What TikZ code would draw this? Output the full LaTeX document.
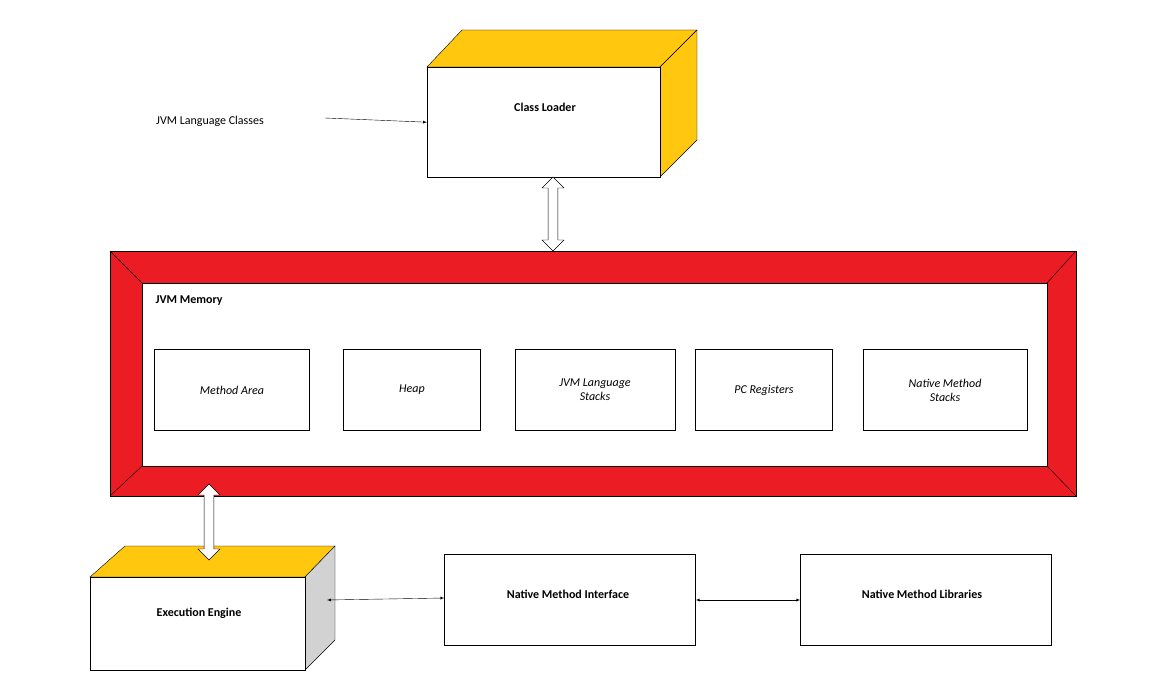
\documentclass[tikz,border=0pt]{standalone}
\usepackage{fontspec}
\setmainfont{Carlito}
\usetikzlibrary{shapes.arrows}
\definecolor{gold}{RGB}{255,199,14}
\definecolor{jvmred}{RGB}{236,28,36}
\definecolor{sidegray}{RGB}{210,210,210}
\tikzset{
  part/.style={draw=black,fill=white,align=center,font=\itshape\large},
  plain/.style={draw=black,fill=white,align=center,font=\bfseries\large},
  dbl/.style={double arrow,draw=black,fill=white,minimum height=#1,minimum width=22pt,double arrow head extend=4pt,inner sep=3pt,rotate=90},
}
\begin{document}
\begin{tikzpicture}[x=1pt,y=-1pt]
\useasboundingbox (0,0) rectangle (1152,698);

% class loader
\fill[gold,draw=black] (427,67) -- (462,30) -- (697,30) -- (660,67) -- cycle;
\fill[gold,draw=black] (660,67) -- (697,30) -- (697,140) -- (660,177) -- cycle;
\node[plain,minimum width=233pt,minimum height=110pt,anchor=north west] (cl) at (427,67) {};
\node[font=\bfseries\large] (cltext) at (545,107) {Class Loader};
\node[font=\large] (src) at (210,121) {JVM Language Classes};
\draw[-latex] (325,118) -- (cl.west);

% memory frame
\fill[jvmred,draw=black] (110,251) rectangle (1076,496);
\fill[white,draw=black] (142,283) rectangle (1047,466);
\draw (110,251) -- (142,283) (1076,251) -- (1047,283)
      (110,496) -- (142,466) (1076,496) -- (1047,466);
\node[font=\bfseries\large,anchor=west] (mem) at (152,301) {JVM Memory};
\node[dbl=74pt] (a1) at (553,214) {};

\node[part,minimum width=155pt,minimum height=81pt] (ma) at (232,390) {Method Area};
\node[part,minimum width=137pt,minimum height=81pt] (hp) at (412,390) {Heap};
\node[part,minimum width=160pt,minimum height=81pt] (ls) at (595,390) {JVM Language\\Stacks};
\node[part,minimum width=137pt,minimum height=81pt] (pc) at (764,390) {PC Registers};
\node[part,minimum width=164pt,minimum height=81pt] (nm) at (945,390) {Native Method\\Stacks};

% execution engine
\fill[gold,draw=black] (90,577) -- (125,546) -- (335,546) -- (305,577) -- cycle;
\fill[sidegray,draw=black] (305,577) -- (335,546) -- (335,640) -- (305,670) -- cycle;
\node[plain,minimum width=215pt,minimum height=93pt,anchor=north west] (ee) at (90,577) {};
\node[font=\bfseries\large] (eetext) at (199,613) {Execution Engine};
\node[dbl=76pt] (a2) at (209,522) {};

\node[plain,minimum width=251pt,minimum height=91pt] (nmi) at (570,600) {};
\node[font=\bfseries\large] (nmitext) at (568,594) {Native Method Interface};
\node[plain,minimum width=251pt,minimum height=91pt] (nml) at (926,600) {};
\node[font=\bfseries\large] (nmltext) at (922,594) {Native Method Libraries};

\coordinate (eer) at (327,600);
\draw[latex-latex] (eer) -- (nmi.west |- 0,598);
\draw[latex-latex] (nmi.east) -- (nml.west);
\end{tikzpicture}
\end{document}
